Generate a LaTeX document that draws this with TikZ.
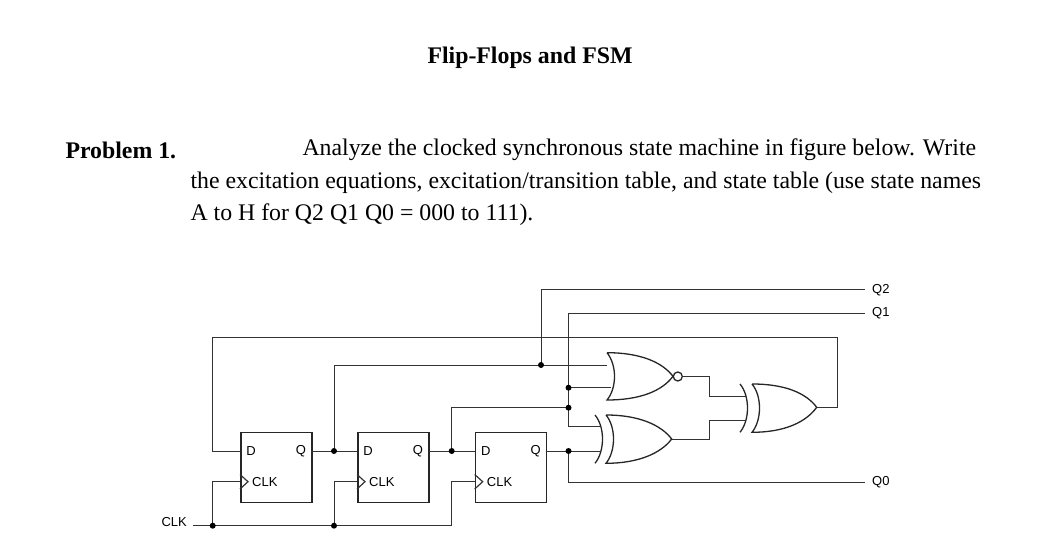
\documentclass[tikz,border=0pt]{standalone}
\usepackage{fontspec}
\setmainfont{Liberation Serif}
\newfontfamily\sansf{Liberation Sans}
\begin{document}
\begin{tikzpicture}[x=1pt,y=-1pt,
  w/.style={line width=1pt, draw=black!80},
  ff/.style={draw=black!85, line width=1.6pt, minimum width=71pt, minimum height=70pt, anchor=north west, inner sep=0pt},
  lbl/.style={font=\sansf\fontsize{13}{13}\selectfont, inner sep=0pt},
  dot/.style={circle, fill=black, inner sep=0pt, minimum size=6pt},
  gate/.style={line width=1.3pt, draw=black!85}]
\useasboundingbox (0,0) rectangle (1041,553);
% texts
\node[font=\bfseries\fontsize{23.8}{28}\selectfont] (title) at (530,58) {Flip-Flops and FSM};
\node[font=\bfseries\fontsize{23.8}{28}\selectfont, anchor=west] (prob) at (62,150) {Problem 1.};
\node[font=\fontsize{23.8}{33}\selectfont, anchor=west] (l1) at (299,150) {Analyze the clocked synchronous state machine in figure below. Write};
\node[font=\fontsize{23.8}{33}\selectfont, anchor=west] (l2) at (187,183) {the excitation equations, excitation/transition table, and state table (use state names};
\node[font=\fontsize{23.8}{33}\selectfont, anchor=west] (l3) at (187,215) {A to H for Q2 Q1 Q0 = 000 to 111).};
% flip-flops
\foreach \n/\x in {ff1/240, ff2/357, ff3/474.7}{
  \node[ff] (\n) at (\x,431.7) {};
  \node[lbl] (\n d) at (\x+11,451) {D};
  \node[lbl] (\n q) at (\x+61,451) {Q};
  \node[lbl, anchor=west] (\n c) at (\x+12,481.7) {CLK};
  \draw[w, line width=1.2pt] (\x,474.5) -- (\x+8,481.7) -- (\x,489);
}
% coordinates
\coordinate (clkin) at (193,525.7);
\coordinate (j1) at (212.7,525.7);
\coordinate (j2) at (334,525.7);
\coordinate (q2a) at (334,451);
\coordinate (q2b) at (541,365);
\coordinate (q1a) at (451.7,451);
\coordinate (q1b) at (568.5,407.7);
\coordinate (q1c) at (568.5,387.7);
\coordinate (q0a) at (568.5,451);
\node[lbl, anchor=east] (clk) at (187,522) {CLK};
\draw[w] (clkin) -- (451.7,525.7) |- (474.7,481.7);
\draw[w] (j1) |- (240,481.7);
\draw[w] (j2) |- (357,481.7);
% Q2 net
\draw[w] (311,451) -- (357,451);
\draw[w] (q2a) |- (607,365);
\draw[w] (q2b) |- (865,290);
\node[lbl, anchor=west] (Q2) at (872,290) {Q2};
% Q1 net
\draw[w] (428,451) -- (474.7,451);
\draw[w] (q1a) |- (q1b);
\draw[w] (568.5,426.7) -- (568.5,313.3) -- (865,313.3);
\draw[w] (q1c) -- (611,387.7);
\draw[w] (568.5,426.7) -- (600,426.7);
\node[lbl, anchor=west] (Q1) at (872,313.3) {Q1};
% Q0 net
\draw[w] (545.7,451) -- (600,451);
\draw[w] (q0a) |- (865,482.3);
\node[lbl, anchor=west] (Q0) at (872,482.3) {Q0};
% feedback
\draw[w] (816.7,407.3) -- (837.7,407.3) |- (212.7,337.7) |- (240,451);
% junction dots
\foreach \c in {j1,j2,q2a,q2b,q1a,q1b,q1c,q0a}{\node[dot] at (\c) {};}
% NOR gate
\draw[gate] (607,352.7) .. controls (640,352.7) and (662,362) .. (673,376.3)
  .. controls (662,391) and (640,400) .. (607,400)
  .. controls (617,388) and (617,365) .. (607,352.7);
\node[circle, draw=black!85, line width=1.3pt, minimum size=9pt, inner sep=0pt] (bub) at (677.8,376.5) {};
\draw[w] (bub.east) -- (709,376.5) |- (746,396.7);
% XOR1
\draw[gate] (606,415) .. controls (639,415) and (661,425) .. (671.7,439)
  .. controls (661,453) and (639,463.3) .. (606,463.3)
  .. controls (616,451) and (616,427) .. (606,415);
\draw[gate] (595,463.3) .. controls (605,451) and (605,427) .. (595,415);
\draw[w] (671.7,439) -- (709,439) |- (746,420);
% XOR2
\draw[gate] (752,384) .. controls (785,384) and (806,393) .. (816.7,407.3)
  .. controls (806,422) and (785,432.3) .. (752,432.3)
  .. controls (762,420) and (762,396) .. (752,384);
\draw[gate] (740,432.3) .. controls (750,420) and (750,396) .. (740,384);
\end{tikzpicture}
\end{document}
